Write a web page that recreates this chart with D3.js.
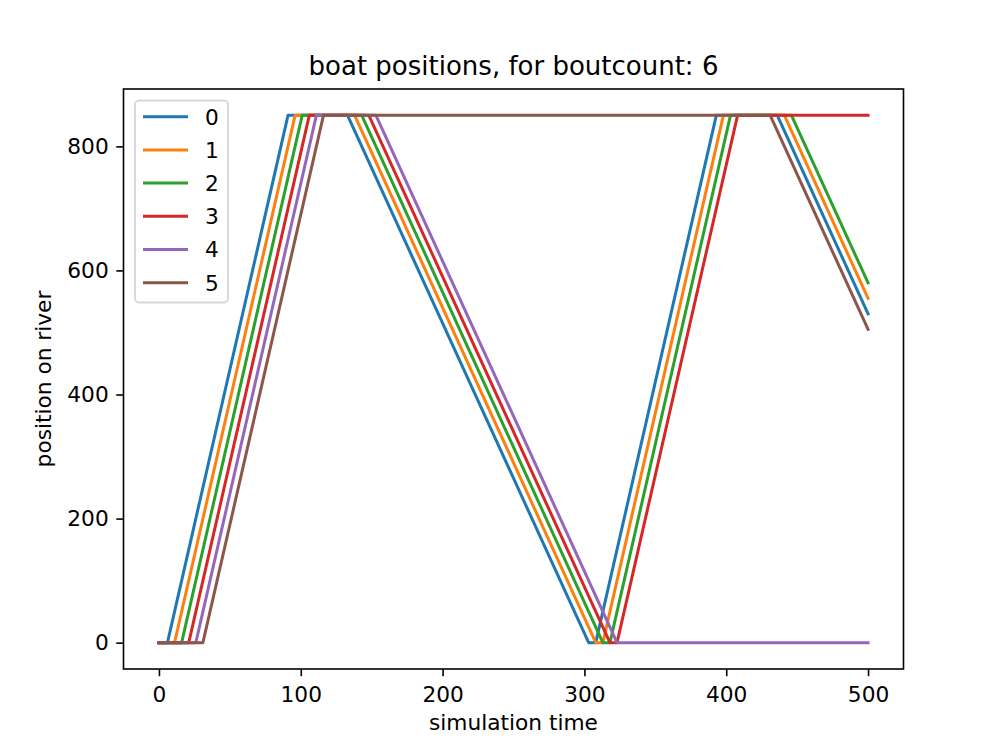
<!DOCTYPE html>
<html>
<head>
<meta charset="utf-8">
<script src="https://cdn.jsdelivr.net/npm/d3@7"></script>
<style>
  html, body { margin: 0; padding: 0; background: #fff; }
  svg { display: block; }
  text { font-family: "DejaVu Sans", sans-serif; fill: #000; }
</style>
</head>
<body>
<script>
// ---- data ----
const boats = ["0", "1", "2", "3", "4", "5"];
const colors = ["#1f77b4", "#ff7f0e", "#2ca02c", "#d62728", "#9467bd", "#8c564b"];
const times0 = [0, 6, 91, 133, 303, 308, 393, 436, 500];
const pos0   = [0, 0, 850, 850, 0, 0, 850, 850, 530];
const times1 = [0, 11, 96, 138, 308, 313, 398, 441, 500];
const pos1   = [0, 0, 850, 850, 0, 0, 850, 850, 555];
const times2 = [0, 16, 101, 143, 313, 318, 403, 446, 500];
const pos2   = [0, 0, 850, 850, 0, 0, 850, 850, 580];
const times3 = [0, 21, 106, 148, 318, 323, 408, 500];
const pos3   = [0, 0, 850, 850, 0, 0, 850, 850];
const times4 = [0, 26, 111, 153, 323, 500];
const pos4   = [0, 0, 850, 850, 0, 0];
const times5 = [0, 31, 116, 431, 500];
const pos5   = [0, 0, 850, 850, 505];
const xTicks = [0, 100, 200, 300, 400, 500];
const yTicks = [0, 200, 400, 600, 800];
const titleText = "boat positions, for boutcount: 6";
const xLabel = "simulation time";
const yLabel = "position on river";

const series = [
  [times0, pos0], [times1, pos1], [times2, pos2],
  [times3, pos3], [times4, pos4], [times5, pos5]
].map(([t, p], i) => ({ name: boats[i], color: colors[i], pts: t.map((v, j) => [v, p[j]]) }));

// ---- layout ----
const W = 1000, H = 750;
const L = 123.5, R = 903.5, T = 89, B = 669;
const FS = 21.7;

const svg = d3.select("body").append("svg").attr("width", W).attr("height", H);

const x = d3.scaleLinear().domain([-25, 525]).range([L, R]);
const y = d3.scaleLinear().domain([-42.5, 892.5]).range([B, T]);

// lines
const line = d3.line().x(d => x(d[0])).y(d => y(d[1]));
const g = svg.append("g");
series.forEach(s => {
  g.append("path")
    .attr("d", line(s.pts))
    .attr("fill", "none")
    .attr("stroke", s.color)
    .attr("stroke-width", 3)
    .attr("stroke-linejoin", "round")
    .attr("stroke-linecap", "square");
});

// axes
const xAxis = d3.axisBottom(x).tickValues(xTicks).tickSize(7.2).tickPadding(10);
const yAxis = d3.axisLeft(y).tickValues(yTicks).tickSize(7.2).tickPadding(7.6);

const gx = svg.append("g").attr("transform", `translate(0,${B})`).call(xAxis);
const gy = svg.append("g").attr("transform", `translate(${L},0)`).call(yAxis);
[gx, gy].forEach(a => {
  a.select(".domain").remove();
  a.selectAll(".tick line").attr("stroke", "#000").attr("stroke-width", 1.6);
  a.selectAll(".tick text").attr("font-size", FS).attr("font-family", "DejaVu Sans, sans-serif").attr("fill", "#000");
});

// frame
svg.append("rect")
  .attr("x", L).attr("y", T).attr("width", R - L).attr("height", B - T)
  .attr("fill", "none").attr("stroke", "#000").attr("stroke-width", 1.6);

// title and labels
svg.append("text").attr("x", (L + R) / 2).attr("y", 75)
  .attr("text-anchor", "middle").attr("font-size", 26).text(titleText);
svg.append("text").attr("x", (L + R) / 2).attr("y", 730)
  .attr("text-anchor", "middle").attr("font-size", FS).text(xLabel);
svg.append("text")
  .attr("transform", `translate(51,${(T + B) / 2}) rotate(-90)`)
  .attr("text-anchor", "middle").attr("font-size", FS).text(yLabel);

// legend
const lg = svg.append("g");
lg.append("rect")
  .attr("x", 135).attr("y", 100.5).attr("width", 93).attr("height", 202)
  .attr("rx", 4.3).attr("ry", 4.3)
  .attr("fill", "#fff").attr("fill-opacity", 0.8)
  .attr("stroke", "#d6d6d6").attr("stroke-width", 1.8);
series.forEach((s, i) => {
  const cy = 116.7 + i * 33.2;
  lg.append("line")
    .attr("x1", 143).attr("x2", 188).attr("y1", cy).attr("y2", cy)
    .attr("stroke", s.color).attr("stroke-width", 3);
  lg.append("text")
    .attr("x", 205).attr("y", cy).attr("dy", "0.36em")
    .attr("font-size", FS).text(s.name);
});
</script>
</body>
</html>
